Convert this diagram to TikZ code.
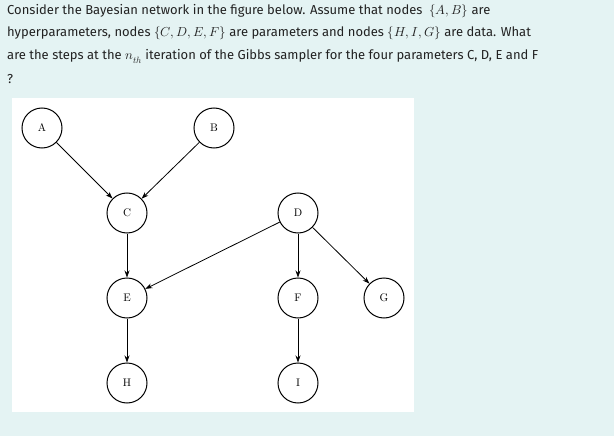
\documentclass[tikz,border=0pt]{standalone}
\usepackage{fontspec}
\setmainfont{Fira Sans}
\usepackage{unicode-math}
\setmathfont{Latin Modern Math}
\usetikzlibrary{arrows.meta}
\definecolor{bgc}{HTML}{E4F3F3}
\definecolor{txt}{HTML}{222222}
\tikzset{
  nd/.style={circle,draw=black,line width=1pt,fill=white,minimum size=40pt,inner sep=0pt,font=\fontsize{11}{11}\selectfont\rmfamily\fontspec{Latin Modern Roman}},
  ed/.style={line width=0.8pt,-{Stealth[length=7pt,width=5pt]}},
  ln/.style={anchor=base west,inner sep=0pt,text=txt,font=\fontsize{13}{13}\selectfont}
}
\begin{document}
\begin{tikzpicture}[x=1pt,y=-1pt]
\fill[bgc] (0,0) rectangle (614,436);
\useasboundingbox (0,0) rectangle (614,436);
\fill[white] (12,98) rectangle (414,412);
\node[ln] (l1) at (7,15) {Consider the Bayesian network in the figure below. Assume that nodes ~$\{A,B\}$ are};
\node[ln] (l2) at (7,37) {hyperparameters, nodes $\{C,D,E,F\}$ are parameters and nodes $\{H,I,G\}$ are data. What};
\node[ln] (l3) at (7,60) {are the steps at the $n_{th}$ iteration of the Gibbs sampler for the four parameters C, D, E and F};
\node[ln] (l4) at (7,84) {?};
\node[nd] (A) at (42,128) {A};
\node[nd] (B) at (214,128) {B};
\node[nd] (C) at (127,213) {C};
\node[nd] (D) at (298,213) {D};
\node[nd] (E) at (127,298) {E};
\node[nd] (F) at (298,298) {F};
\node[nd] (G) at (384,298) {G};
\node[nd] (H) at (127,383) {H};
\node[nd] (I) at (298,383) {I};
\draw[ed] (A) -- (C);
\draw[ed] (B) -- (C);
\draw[ed] (C) -- (E);
\draw[ed] (D) -- (E);
\draw[ed] (D) -- (F);
\draw[ed] (D) -- (G);
\draw[ed] (E) -- (H);
\draw[ed] (F) -- (I);
\end{tikzpicture}
\end{document}
